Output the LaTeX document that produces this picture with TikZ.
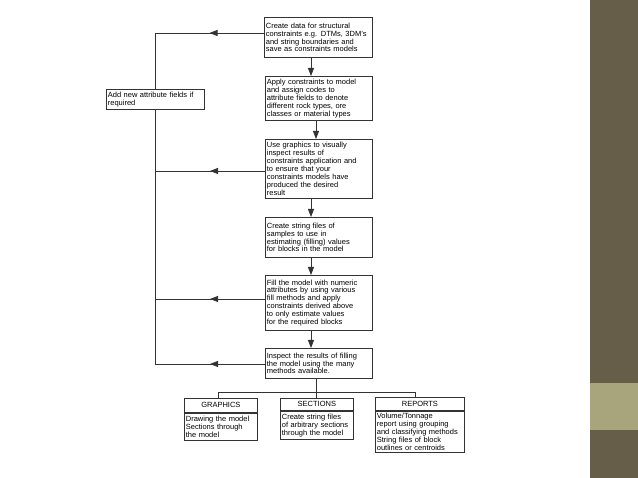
\documentclass[tikz,border=0pt]{standalone}
\usepackage{fontspec}
\setmainfont{Liberation Sans}
\usetikzlibrary{arrows.meta,decorations.markings}
\definecolor{side}{HTML}{665E48}
\definecolor{band}{HTML}{A8A47C}
\definecolor{ln}{HTML}{333333}
\tikzset{
  box/.style={draw=ln,line width=0.8pt,anchor=north west,align=left,inner sep=1.5pt,font=\fontsize{7.5}{7.9}\selectfont,fill=white},
  hdr/.style={draw=ln,line width=0.8pt,anchor=north west,align=center,inner sep=1pt,font=\fontsize{7.5}{7.9}\selectfont},
  conn/.style={draw=ln,line width=0.8pt},
  arr/.style={conn,-{Triangle[length=8pt,width=6pt]}},
  midarrow/.style={conn,decoration={markings,mark=at position 0.5 with {\arrow{Triangle[length=8pt,width=6pt]}}},postaction={decorate}}
}
\begin{document}
\begin{tikzpicture}[x=1pt,y=-1pt]
\useasboundingbox (0,0) rectangle (638,478);
\fill[white] (0,0) rectangle (638,478);
\fill[side] (590,0) rectangle (638,478);
\fill[band] (590,383) rectangle (638,430);
% main boxes
\node[box,text width=105pt,minimum height=40pt] (b1) at (264,17) {Create data for structural\\constraints e.g. DTMs, 3DM's\\and string boundaries and\\save as constraints models};
\node[box,text width=104pt,minimum height=44pt] (b2) at (265,76) {Apply constraints to model\\and assign codes to\\attribute fields to denote\\different rock types, ore\\classes or material types};
\node[box,text width=104pt,minimum height=59pt] (b3) at (265,139) {Use graphics to visually\\inspect results of\\constraints application and\\to ensure that your\\constraints models have\\produced the desired\\result};
\node[box,text width=104pt,minimum height=40pt] (b4) at (265,217) {Create string files of\\samples to use in\\estimating (filling) values\\for blocks in the model};
\node[box,text width=104pt,minimum height=55pt] (b5) at (265,275) {Fill the model with numeric\\attributes by using various\\fill methods and apply\\constraints derived above\\to only estimate values\\for the required blocks};
\node[box,text width=104pt,minimum height=30pt] (b6) at (265,348) {Inspect the results of filling\\the model using the many\\methods available.};
% left loop
\coordinate (tl) at (155,33);
\coordinate (l3) at (155,171);
\coordinate (l5) at (155,299);
\coordinate (l6) at (155,364);
\draw[conn] (tl) -- (l6);
\draw[midarrow] (b1.west|-tl) -- (tl);
\draw[midarrow] (b3.west|-l3) -- (l3);
\draw[midarrow] (b5.west|-l5) -- (l5);
\draw[midarrow] (b6.west|-l6) -- (l6);
\node[box,text width=95pt,minimum height=20pt] (add) at (106,89) {Add new attribute fields if\\required};
% down arrows
\draw[arr] (311,57) -- (311,76);
\draw[arr] (316,120) -- (316,139);
\draw[arr] (311,198) -- (311,217);
\draw[arr] (311,257) -- (311,275);
\draw[arr] (311,330) -- (311,348);
% bottom
\node[hdr,minimum width=73pt,minimum height=14pt] (gh) at (184,398) {GRAPHICS};
\node[box,text width=70pt,minimum height=27pt] (gb) at (gh.south west) {Drawing the model\\Sections through\\the model};
\node[hdr,minimum width=73pt,minimum height=12pt] (sh) at (280,398) {SECTIONS};
\node[box,text width=70pt,minimum height=28pt] (sb) at (sh.south west) {Create string files\\of arbitrary sections\\through the model};
\node[hdr,minimum width=89pt,minimum height=13pt] (rh) at (375,397) {REPORTS};
\node[box,text width=86pt,minimum height=41pt] (rb) at (rh.south west) {Volume/Tonnage\\report using grouping\\and classifying methods\\String files of block\\outlines or centroids};
\coordinate (j) at (316,392);
\draw[conn] (b6.south-|j) -- (j);
\draw[conn] (gh.north-|218,0) -- (218,392) -- (415,392) -- (rh.north-|415,0);
\draw[conn] (j) -- (sh.north-|j);
\end{tikzpicture}
\end{document}
